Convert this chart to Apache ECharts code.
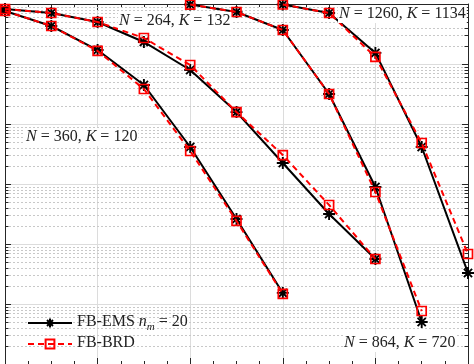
<!DOCTYPE html>
<html>
<head>
<meta charset="utf-8">
<script src="https://cdn.jsdelivr.net/npm/echarts@6/dist/echarts.min.js"></script>
<style>html,body{margin:0;padding:0;background:#fff}#c{width:474px;height:364px}</style>
</head>
<body>
<div id="c"></div>
<script>
// x positions (SNR steps, labels not visible in the crop)
const snr = [1, 1.5, 2, 2.5, 3, 3.5, 4, 4.5, 5, 5.5, 6];

// N=360, K=120 (points 0..6)
const emsA = [0.764, 0.430, 0.171, 0.0447, 0.00414, 2.61e-4, 1.53e-5];
const brdA = [0.764, 0.430, 0.165, 0.0383, 0.00355, 2.42e-4, 1.47e-5];
// N=264, K=132 (points 0..8)
const emsB = [0.825, 0.708, 0.501, 0.233, 0.0794, 0.0158, 0.00224, 3.16e-4, 5.62e-5];
const brdB = [0.825, 0.708, 0.501, 0.271, 0.0962, 0.0158, 0.00304, 4.47e-4, 5.62e-5];
// N=864, K=720 (points 4..9)
const emsC = [0.98, 0.736, 0.369, 0.0316, 8.91e-4, 5.01e-6];
const brdC = [0.98, 0.736, 0.369, 0.0316, 7.36e-4, 7.64e-6];
// N=1260, K=1134 (points 6..10)
const emsD = [0.981, 0.708, 0.153, 0.00414, 3.29e-5];
const brdD = [0.981, 0.708, 0.131, 0.00482, 6.81e-5];

const startA = 0, startB = 0, startC = 4, startD = 6;

// minor log grid positions
const minorMult = [2, 3, 4, 5, 6, 7, 8, 9];
const decades = [1e-6, 1e-5, 1e-4, 1e-3, 1e-2, 1e-1];

const curveLabels = [
  {text: '{i|N} = 264, {i|K} = 132', x: 118, y: 21},
  {text: '{i|N} = 1260, {i|K} = 1134', x: 338, y: 14},
  {text: '{i|N} = 360, {i|K} = 120', x: 25, y: 137},
  {text: '{i|N} = 864, {i|K} = 720', x: 343, y: 343}
];

const FONT = 'Liberation Serif';
const starPath = 'path://M5 0L5 10M0 5L10 5M1.6 1.6L8.4 8.4M1.6 8.4L8.4 1.6';

function pts(vals, start) {
  return vals.map((v, i) => [snr[start + i], v]);
}

function emsSeries(vals, start) {
  return {
    name: 'FB-EMS', type: 'line', data: pts(vals, start),
    symbol: starPath, symbolSize: 12, symbolKeepAspect: true,
    lineStyle: {color: '#000', width: 2},
    itemStyle: {color: '#000', borderColor: '#000', borderWidth: 1.9},
    z: 3, clip: false, animation: false
  };
}
function brdSeries(vals, start) {
  return {
    name: 'FB-BRD', type: 'line', data: pts(vals, start),
    symbol: 'rect', symbolSize: 9,
    lineStyle: {color: '#f00', width: 2, type: [6, 4]},
    itemStyle: {color: 'rgba(255,255,255,0)', borderColor: '#f00', borderWidth: 1.7},
    z: 4, clip: false, animation: false
  };
}

const minorData = [];
decades.forEach(d => minorMult.forEach(m => minorData.push([snr[0], d * m])));

const chart = echarts.init(document.getElementById('c'), null, {renderer: 'canvas'});

const axisLineStyle = {lineStyle: {color: '#262626', width: 1}};
const xAxisBase = {
  type: 'value', min: 1, max: 6, interval: 1,
  axisLabel: {show: false},
  axisLine: axisLineStyle,
  axisTick: {inside: true, length: 6, lineStyle: {color: '#262626'}},
  minorTick: {show: true, splitNumber: 4, length: 3, lineStyle: {color: '#262626'}}
};
const yAxisBase = {
  type: 'log', logBase: 10, min: 1e-6, max: 1,
  axisLabel: {show: false},
  axisLine: axisLineStyle,
  axisTick: {inside: true, length: 6, lineStyle: {color: '#262626'}}
};

chart.setOption({
  backgroundColor: '#fff',
  animation: false,
  grid: {left: 5, top: 4, width: 463, height: 360, containLabel: false},
  xAxis: [
    Object.assign({}, xAxisBase, {position: 'bottom', splitLine: {show: true, lineStyle: {color: '#dcdcdc', width: 1}}}),
    Object.assign({}, xAxisBase, {position: 'top', splitLine: {show: false}})
  ],
  yAxis: [
    Object.assign({}, yAxisBase, {position: 'left', splitLine: {show: true, lineStyle: {color: '#dcdcdc', width: 1}}}),
    Object.assign({}, yAxisBase, {position: 'right', splitLine: {show: false}})
  ],
  legend: {
    data: ['FB-EMS', 'FB-BRD'],
    orient: 'vertical', left: 22, top: 309,
    itemWidth: 44, itemHeight: 11, itemGap: 2,
    selectedMode: false,
    formatter: function (name) {
      return name === 'FB-EMS' ? '{t|FB-EMS }{i|n}{s|m}{t| = 20}' : '{t|FB-BRD}';
    },
    textStyle: {
      fontFamily: FONT, fontSize: 16, color: '#222',
      rich: {
        t: {fontFamily: FONT, fontSize: 16, color: '#222', lineHeight: 18, verticalAlign: 'top'},
        i: {fontFamily: FONT, fontSize: 16, fontStyle: 'italic', color: '#222', lineHeight: 18, verticalAlign: 'top'},
        s: {fontFamily: FONT, fontSize: 11, fontStyle: 'italic', color: '#222', lineHeight: 18, verticalAlign: 'top', padding: [8, 0, 0, 0]}
      }
    }
  },
  series: [
    {
      type: 'custom', name: 'minor', silent: true, z: 1,
      data: minorData, encode: {x: 0, y: 1},
      renderItem: function (params, api) {
        const cs = params.coordSys;
        const p = api.coord([api.value(0), api.value(1)]);
        const y = Math.round(p[1]) + 0.5;
        return {
          type: 'group',
          children: [
            {type: 'line', shape: {x1: cs.x, y1: y, x2: cs.x + cs.width, y2: y},
             style: {stroke: '#c8c8c8', lineWidth: 1, lineDash: [2, 2]}},
            {type: 'line', shape: {x1: cs.x, y1: y, x2: cs.x + 3.5, y2: y},
             style: {stroke: '#262626', lineWidth: 1}},
            {type: 'line', shape: {x1: cs.x + cs.width - 3.5, y1: y, x2: cs.x + cs.width, y2: y},
             style: {stroke: '#262626', lineWidth: 1}}
          ]
        };
      }
    },
    emsSeries(emsA, startA), emsSeries(emsB, startB), emsSeries(emsC, startC), emsSeries(emsD, startD),
    brdSeries(brdA, startA), brdSeries(brdB, startB), brdSeries(brdC, startC), brdSeries(brdD, startD)
  ],
  graphic: curveLabels.map(l => ({
    type: 'text', left: l.x, top: l.y - 9, z: 10,
    style: {
      text: l.text, fontFamily: FONT, fontSize: 16, fill: '#222',
      backgroundColor: '#fff', padding: [1, 1, 1, 1],
      rich: {i: {fontFamily: FONT, fontSize: 16, fontStyle: 'italic', fill: '#222'}}
    }
  }))
});
</script>
</body>
</html>
